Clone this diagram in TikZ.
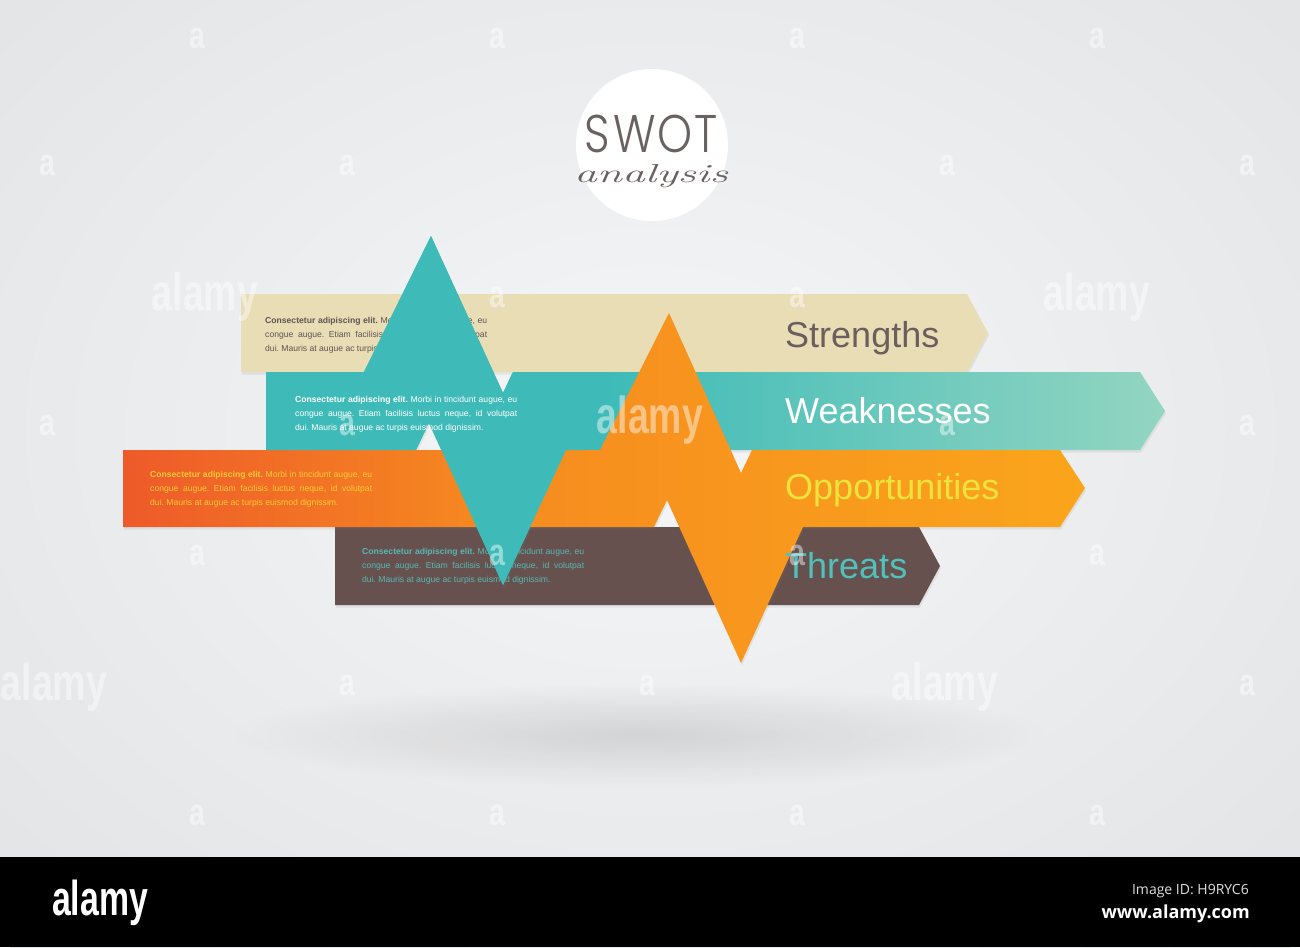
\documentclass[tikz,border=0pt]{standalone}
\usepackage{fontspec}
\usepackage{graphicx}
\setmainfont{Liberation Sans}
\newfontfamily\swotfont{Poppins Light}
\newfontfamily\footfont{Open Sans}
\usetikzlibrary{fadings,shadows}
\frenchspacing

\definecolor{bgin}{HTML}{F5F6F7}
\definecolor{bgout}{HTML}{E2E3E4}
\definecolor{beigeb}{HTML}{E9DDB6}
\definecolor{brownb}{HTML}{66514F}
\definecolor{tealA}{HTML}{3EBBB8}
\definecolor{mint}{HTML}{93D5C1}
\definecolor{orA}{HTML}{EE5A2A}
\definecolor{orB}{HTML}{F68C1F}
\definecolor{orC}{HTML}{FAA51B}
\definecolor{labgray}{HTML}{6A5F5C}
\definecolor{oplab}{HTML}{ECE33C}
\definecolor{thlab}{HTML}{50C1BB}
\definecolor{beigetxt}{HTML}{5E5452}
\definecolor{ortxt}{HTML}{FFCB35}
\definecolor{brtxt}{HTML}{58B8B3}
\definecolor{swotgray}{HTML}{6A6260}

\pgfdeclarehorizontalshading{tealsh}{100bp}{color(0bp)=(tealA); color(25bp)=(tealA); color(44bp)=(tealA); color(75bp)=(mint); color(100bp)=(mint)}
\pgfdeclarehorizontalshading{orsh}{100bp}{color(0bp)=(orA); color(25bp)=(orA); color(45bp)=(orB); color(75bp)=(orC); color(100bp)=(orC)}
\tikzfading[name=softell, inner color=transparent!0, outer color=transparent!100]

\tikzset{
  body/.style={anchor=north west, inner sep=0pt, align=left, font=\fontsize{8.6}{14}\selectfont},
  lab/.style={anchor=base west, inner sep=0pt, font=\fontsize{36}{36}\selectfont},
  wma/.style={inner sep=0pt, text=white, text opacity=0.45},
  softshadow/.style={drop shadow={opacity=0.13, shadow xshift=1pt, shadow yshift=-2.5pt}},
}
\newcommand{\lorem}{\makebox[222pt][s]{\textbf{Consectetur adipiscing elit.} Morbi in tincidunt augue, eu}\\\makebox[222pt][s]{congue augue. Etiam facilisis luctus neque, id volutpat}\\dui. Mauris at augue ac turpis euismod dignissim.}
\newcommand{\wmA}{\scalebox{0.75}[1]{\fontsize{38}{38}\selectfont\bfseries a}}
\newcommand{\wmAlamy}{\scalebox{0.72}[1]{\fontsize{52}{52}\selectfont\bfseries alamy}}

\begin{document}
\begin{tikzpicture}[x=1pt,y=-1pt]
\useasboundingbox (0,0) rectangle (1300,947);
% background
\fill[bgout] (0,0) rectangle (1300,947);
\shade[inner color=bgin, outer color=bgout] (650,430) ellipse (950 and 700);
\fill[black, opacity=0.11, path fading=softell] (640,735) ellipse (410 and 52);

% title circle
\fill[white] (652,145) circle (76);
\node[inner sep=0pt, anchor=base, text=swotgray] (swot) at (651,152)
  {\scalebox{0.84}[1]{\swotfont\fontsize{53}{53}\selectfont S\hspace{4pt}W\hspace{2pt}O\hspace{2pt}T}};
\node[inner sep=0pt, text=swotgray] (ana) at (651,176)
  {\scalebox{1.75}[1]{\fontspec{Latin Modern Roman}\fontsize{26}{26}\selectfont\itshape analysis}};

% beige and brown ribbons with their texts
\fill[beigeb, softshadow] (241,294) -- (967,294) -- (988,333) -- (967,372) -- (241,372) -- cycle;
\node[body, text=beigetxt] (tS) at (265,317) {\lorem};
\fill[brownb, softshadow] (335,527) -- (919,527) -- (940,566) -- (919,605) -- (335,605) -- cycle;
\node[body, text=brtxt] (tT) at (362,548) {\lorem};

% teal ribbon
\def\tealpath{(266,372) -- (364,372) -- (431,236) -- (503,393) -- (513,372) -- (1140,372) -- (1165,411) -- (1140,450) -- (566,450) -- (503,585) -- (429,423) -- (416,450) -- (266,450) -- cycle}
\path[shading=tealsh, shade, softshadow] \tealpath;
% orange ribbon
\path[shading=orsh, shade, softshadow] (123,450) -- (600,450) -- (669,313) -- (741,473) -- (752,450) -- (1060,450) -- (1085,488) -- (1060,527) -- (803,527) -- (741,663) -- (667,500) -- (654,527) -- (123,527) -- cycle;
% teal valley over orange band
\begin{scope}
  \clip (0,0) rectangle (585,947);
  \path[shading=tealsh, shade] \tealpath;
\end{scope}

\node[body, text=white] (tW) at (295,396) {\lorem};
\node[body, text=ortxt] (tO) at (150,471) {\lorem};

% labels
\node[lab, text=labgray] (lS) at (785,347) {Strengths};
\node[lab, text=white] (lW) at (785,423) {Weaknesses};
\node[lab, text=oplab] (lO) at (785,499) {Opportunities};
\node[lab, text=thlab] (lT) at (785,578) {Threats};

% watermarks
\foreach \x/\y [count=\i] in {197/38,497/38,797/38,1097/38,
  47/165,347/165,947/165,1247/165,
  497/297,797/297,
  47/425,347/425,947/425,1247/425,
  197/555,497/555,797/555,1097/555,
  347/685,647/685,1247/685,
  197/815,497/815,797/815,1097/815}
  \node[wma] (wa\i) at (\x,\y) {\wmA};
\foreach \x/\y [count=\i] in {205/297,1097/297,650/420,54/687,945/687}
  \node[wma] (wl\i) at (\x,\y) {\wmAlamy};

% bottom bar
\fill[black] (0,857) rectangle (1300,947);
\node[anchor=base west, inner sep=0pt, text=white] (logo) at (52,915)
  {\scalebox{0.69}[1]{\fontsize{49}{49}\selectfont\bfseries alamy}};
\node[anchor=base east, inner sep=0pt, text=white!88!black] (imgid) at (1249,894)
  {\footfont\fontsize{14}{14}\selectfont Image ID: H9RYC6};
\node[anchor=base east, inner sep=0pt, text=white] (www) at (1250,918)
  {\footfont\bfseries\fontsize{18}{18}\selectfont www.alamy.com};
\end{tikzpicture}
\end{document}
